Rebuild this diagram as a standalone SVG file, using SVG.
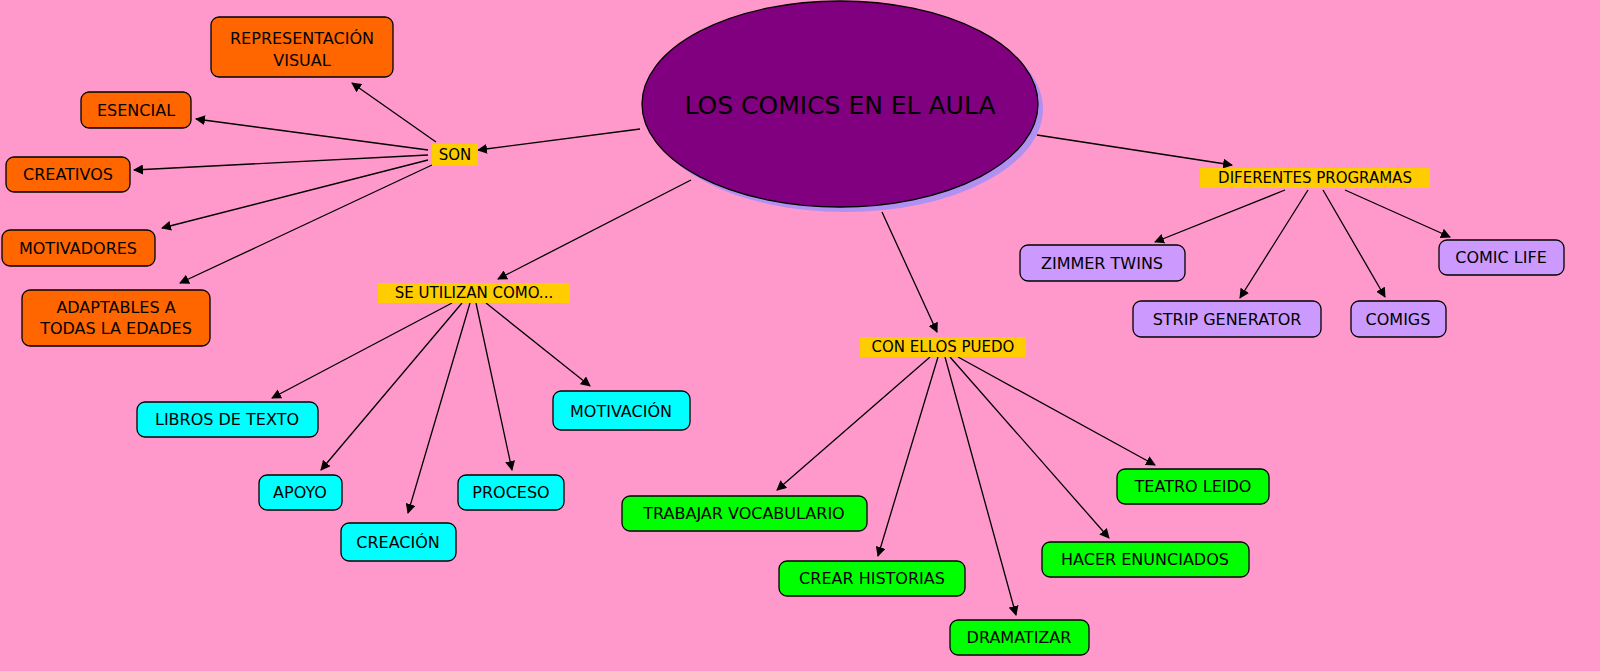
<svg xmlns="http://www.w3.org/2000/svg" width="1600" height="671" viewBox="0 0 1600 671">
<defs>
<marker id="a" markerWidth="10" markerHeight="10" refX="9" refY="5" orient="auto" markerUnits="userSpaceOnUse" viewBox="0 0 10 10"><path d="M0,0L10,5L0,10z" fill="#000"/></marker>
<style>
text{font-family:"DejaVu Sans",Verdana,sans-serif;font-size:16px;fill:#000;text-anchor:middle}
.b rect{stroke:#000;stroke-width:1.3}
.o rect{fill:#ff6600}.c rect{fill:#00ffff}.g rect{fill:#00ff00}.p rect{fill:#cc99ff}
.l rect{fill:#ffcc00}.l text{font-size:15px}
#edges line{stroke:#000;stroke-width:1.3;marker-end:url(#a)}
</style>
</defs>
<rect width="1600" height="671" fill="#ff99cc"/>
<g id="edges">
<line x1="640" y1="129" x2="478" y2="150"/>
<line x1="436" y1="142" x2="352" y2="83"/>
<line x1="428" y1="150" x2="196" y2="119"/>
<line x1="428" y1="155" x2="134" y2="170"/>
<line x1="428" y1="160" x2="162" y2="228"/>
<line x1="432" y1="165" x2="180" y2="283"/>
<line x1="691" y1="180" x2="498" y2="279"/>
<line x1="452" y1="303" x2="272" y2="398"/>
<line x1="462" y1="303" x2="321" y2="470"/>
<line x1="470" y1="303" x2="408" y2="513"/>
<line x1="476" y1="303" x2="512" y2="470"/>
<line x1="486" y1="303" x2="590" y2="386"/>
<line x1="882" y1="212" x2="937" y2="332"/>
<line x1="930" y1="357" x2="777" y2="490"/>
<line x1="938" y1="357" x2="878" y2="556"/>
<line x1="945" y1="357" x2="1016" y2="615"/>
<line x1="950" y1="357" x2="1109" y2="538"/>
<line x1="958" y1="357" x2="1155" y2="465"/>
<line x1="1037" y1="135" x2="1232" y2="165"/>
<line x1="1285" y1="190" x2="1155" y2="242"/>
<line x1="1308" y1="190" x2="1240" y2="298"/>
<line x1="1323" y1="190" x2="1385" y2="297"/>
<line x1="1345" y1="190" x2="1450" y2="237"/>
</g>
<g id="main">
<ellipse cx="845" cy="109" rx="198" ry="103" fill="#b090f0"/>
<ellipse cx="840" cy="104" rx="198" ry="103" fill="#800080" stroke="#000" stroke-width="1.3"/>
<text x="840" y="114" style="font-family:'Comic Sans MS','DejaVu Sans',sans-serif;font-size:25px">LOS COMICS EN EL AULA</text>
</g>
<g id="son" class="l"><rect x="432" y="144" width="46" height="22"/><text x="455" y="160">SON</text></g>
<g id="se" class="l"><rect x="378" y="283" width="192" height="20"/><text x="474" y="298">SE UTILIZAN COMO...</text></g>
<g id="con" class="l"><rect x="860" y="337" width="166" height="20"/><text x="943" y="352">CON ELLOS PUEDO</text></g>
<g id="dif" class="l"><rect x="1200" y="168" width="230" height="20"/><text x="1315" y="183">DIFERENTES PROGRAMAS</text></g>
<g id="rep" class="b o"><rect x="211" y="17" width="182" height="60" rx="8"/><text x="302" y="44">REPRESENTACIÓN</text><text x="302" y="66">VISUAL</text></g>
<g id="ese" class="b o"><rect x="81" y="92" width="110" height="36" rx="8"/><text x="136" y="116">ESENCIAL</text></g>
<g id="cre" class="b o"><rect x="6" y="157" width="124" height="35" rx="8"/><text x="68" y="180">CREATIVOS</text></g>
<g id="mot" class="b o"><rect x="2" y="230" width="153" height="36" rx="8"/><text x="78" y="254">MOTIVADORES</text></g>
<g id="ada" class="b o"><rect x="22" y="290" width="188" height="56" rx="8"/><text x="116" y="313">ADAPTABLES A</text><text x="116" y="334">TODAS LA EDADES</text></g>
<g id="lib" class="b c"><rect x="137" y="402" width="181" height="35" rx="8"/><text x="227" y="425">LIBROS DE TEXTO</text></g>
<g id="apo" class="b c"><rect x="259" y="475" width="83" height="35" rx="8"/><text x="300" y="498">APOYO</text></g>
<g id="crea" class="b c"><rect x="341" y="523" width="115" height="38" rx="8"/><text x="398" y="548">CREACIÓN</text></g>
<g id="pro" class="b c"><rect x="458" y="475" width="106" height="35" rx="8"/><text x="511" y="498">PROCESO</text></g>
<g id="motv" class="b c"><rect x="553" y="391" width="137" height="39" rx="8"/><text x="621" y="417">MOTIVACIÓN</text></g>
<g id="tra" class="b g"><rect x="622" y="496" width="245" height="35" rx="8"/><text x="744" y="519">TRABAJAR VOCABULARIO</text></g>
<g id="his" class="b g"><rect x="779" y="561" width="186" height="35" rx="8"/><text x="872" y="584">CREAR HISTORIAS</text></g>
<g id="dra" class="b g"><rect x="950" y="620" width="139" height="35" rx="8"/><text x="1019" y="643">DRAMATIZAR</text></g>
<g id="hac" class="b g"><rect x="1042" y="542" width="207" height="35" rx="8"/><text x="1145" y="565">HACER ENUNCIADOS</text></g>
<g id="tea" class="b g"><rect x="1117" y="469" width="152" height="35" rx="8"/><text x="1193" y="492">TEATRO LEIDO</text></g>
<g id="zim" class="b p"><rect x="1020" y="245" width="165" height="36" rx="8"/><text x="1102" y="269">ZIMMER TWINS</text></g>
<g id="str" class="b p"><rect x="1133" y="301" width="188" height="36" rx="8"/><text x="1227" y="325">STRIP GENERATOR</text></g>
<g id="comg" class="b p"><rect x="1351" y="301" width="95" height="36" rx="8"/><text x="1398" y="325">COMIGS</text></g>
<g id="life" class="b p"><rect x="1439" y="240" width="125" height="35" rx="8"/><text x="1501" y="263">COMIC LIFE</text></g>
</svg>
